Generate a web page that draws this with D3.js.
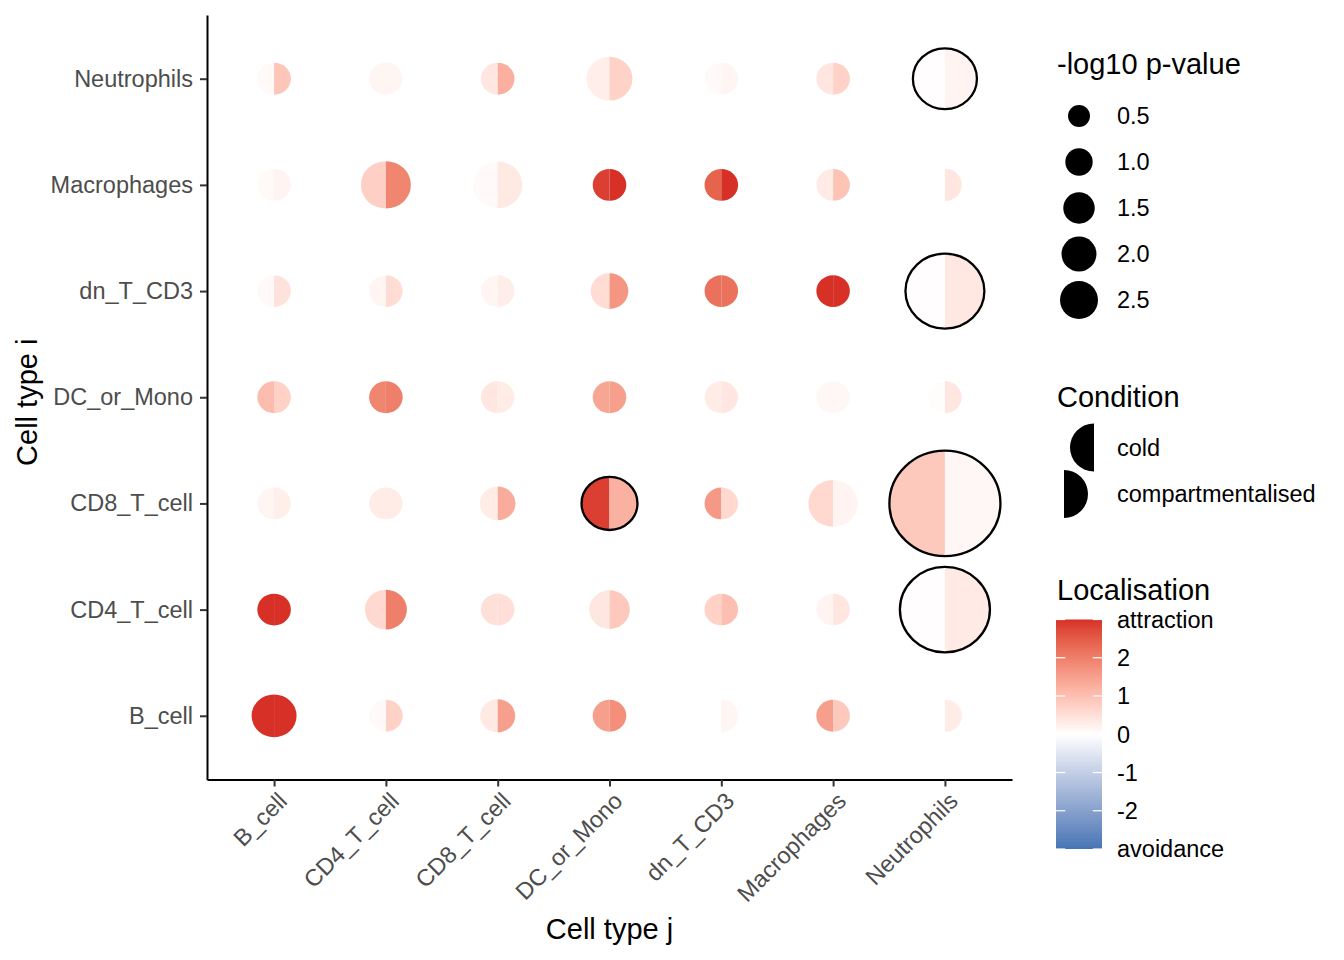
<!DOCTYPE html>
<html>
<head>
<meta charset="utf-8">
<script src="https://cdn.jsdelivr.net/npm/d3@7"></script>
<style>
  body { margin: 0; background: #fff; }
  text { font-family: "Liberation Sans", Arial, Helvetica, sans-serif; }
</style>
</head>
<body>
<div id="chart"></div>
<script>
// cell types, used for both axes
const cellTypes = ["B_cell", "CD4_T_cell", "CD8_T_cell", "DC_or_Mono", "dn_T_CD3", "Macrophages", "Neutrophils"];

// rows = cell type i, columns = cell type j (same order as cellTypes)
const coldScore = [
  [3.0, 0.08, 0.35, 1.5, 0.0, 1.5, 0.0],
  [3.0, 0.6, 0.48, 0.38, 0.72, 0.17, 0.03],
  [0.14, 0.3, 0.3, 2.85, 1.6, 0.62, 0.85],
  [1.05, 1.9, 0.4, 1.4, 0.3, 0.12, 0.04],
  [0.08, 0.15, 0.14, 0.55, 2.2, 3.0, 0.03],
  [0.1, 0.75, 0.08, 2.85, 2.4, 0.32, 0.0],
  [0.1, 0.15, 0.4, 0.27, 0.08, 0.4, 0.03]
];
const compScore = [
  [3.0, 0.7, 1.5, 1.75, 0.16, 0.85, 0.3],
  [3.0, 2.0, 0.5, 0.85, 1.0, 0.4, 0.33],
  [0.25, 0.3, 1.3, 1.22, 0.6, 0.18, 0.12],
  [0.72, 2.0, 0.3, 1.5, 0.4, 0.12, 0.4],
  [0.45, 0.55, 0.28, 1.65, 2.2, 3.0, 0.37],
  [0.17, 1.9, 0.35, 3.0, 3.0, 0.95, 0.4],
  [0.9, 0.15, 1.25, 0.7, 0.15, 0.7, 0.18]
];
const negLogP = [
  [0.73, 0, 0.09, 0, 0.03, 0, 0.03],
  [0, 0.54, 0, 0.45, 0, 0, 3.61],
  [0, 0, 0.13, 1.43, 0, 1.01, 4.95],
  [0, 0, 0, 0, 0, 0, 0],
  [0, 0, 0, 0.26, 0, 0, 2.9],
  [0, 1.05, 1.01, 0, 0, 0, 0.03],
  [0, 0, 0, 0.8, 0, 0, 1.95]
];

const sizeBreaks = [0.5, 1.0, 1.5, 2.0, 2.5];
const conditions = ["cold", "compartmentalised"];
const colorBreaks = [3, 2, 1, 0, -1, -2, -3];
const colorLabels = ["attraction", "2", "1", "0", "-1", "-2", "avoidance"];

const width = 1344, height = 960;
const panel = { left: 207, right: 1012, top: 15, bottom: 779.5 };

const svg = d3.select("#chart").append("svg")
  .attr("width", width)
  .attr("height", height);

// scales
const x = d3.scalePoint().domain(cellTypes).range([panel.left, panel.right]).padding(0.6);
const y = d3.scalePoint().domain(cellTypes).range([panel.bottom, panel.top]).padding(0.6);
const color = d3.scaleLinear().domain([-3, 0, 3])
  .range(["#4575b4", "#ffffff", "#d73027"])
  .interpolate(d3.interpolateLab)
  .clamp(true);
// radius in data units (fraction of a cell)
const rScale = d3.scaleLinear().domain([0, 5]).range([0.15, 0.5]);
const sigLevel = -Math.log10(0.05);

const cells = [];
cellTypes.forEach((ci, i) => {
  cellTypes.forEach((cj, j) => {
    cells.push({ i: ci, j: cj, cold: coldScore[i][j], comp: compScore[i][j], p: negLogP[i][j] });
  });
});

// axes
const xAxis = svg.append("g")
  .attr("transform", `translate(0,${panel.bottom})`)
  .call(d3.axisBottom(x).tickSize(7).tickSizeOuter(0));
const yAxis = svg.append("g")
  .attr("transform", `translate(${panel.left},0)`)
  .call(d3.axisLeft(y).tickSize(7).tickSizeOuter(0).tickPadding(7));

[xAxis, yAxis].forEach(ax => {
  ax.select(".domain").attr("stroke", "#000").attr("stroke-width", 2);
  ax.selectAll(".tick line").attr("stroke", "#333").attr("stroke-width", 2);
  ax.selectAll(".tick text")
    .attr("fill", "#4d4d4d")
    .style("font-size", "23.5px")
    .style("font-family", "'Liberation Sans', Arial, sans-serif");
});

xAxis.selectAll(".tick text")
  .attr("text-anchor", "end")
  .attr("x", null).attr("y", null).attr("dy", "0.72em")
  .attr("transform", "translate(2,11) rotate(-45)");

// half circles
const g = svg.append("g");
const sx = x.step(), sy = y.step();

const halfPath = (cx, cy, rx, ry, side) => side === "right"
  ? `M${cx},${cy - ry} A${rx},${ry} 0 0 1 ${cx},${cy + ry} Z`
  : `M${cx},${cy + ry} A${rx},${ry} 0 0 1 ${cx},${cy - ry} Z`;

const cellG = g.selectAll("g.cell")
  .data(cells)
  .enter()
  .append("g")
  .attr("class", "cell");

cellG.append("path")
  .attr("d", d => halfPath(x(d.j), y(d.i), rScale(d.p) * sx, rScale(d.p) * sy, "left"))
  .attr("fill", d => color(d.cold));

cellG.append("path")
  .attr("d", d => halfPath(x(d.j), y(d.i), rScale(d.p) * sx, rScale(d.p) * sy, "right"))
  .attr("fill", d => color(d.comp));

cellG.filter(d => d.p > sigLevel)
  .append("ellipse")
  .attr("cx", d => x(d.j))
  .attr("cy", d => y(d.i))
  .attr("rx", d => rScale(d.p) * sx)
  .attr("ry", d => rScale(d.p) * sy)
  .attr("fill", "none")
  .attr("stroke", "#000")
  .attr("stroke-width", 2.3);

// axis titles
svg.append("text")
  .attr("x", (panel.left + panel.right) / 2)
  .attr("y", 939)
  .attr("text-anchor", "middle")
  .style("font-size", "29px")
  .text("Cell type j");

svg.append("text")
  .attr("transform", `translate(37,${(panel.top + panel.bottom) / 2 + 5}) rotate(-90)`)
  .attr("text-anchor", "middle")
  .style("font-size", "29px")
  .text("Cell type i");

// legend: -log10 p-value
const legX = 1057, keyX = 1079, labX = 1117;
svg.append("text").attr("x", legX).attr("y", 74)
  .style("font-size", "29px").text("-log10 p-value");

const legSize = d3.scaleSqrt().domain([0, 2.5]).range([4.5, 19]);
const sizeKeys = svg.append("g").selectAll("g")
  .data(sizeBreaks).enter().append("g")
  .attr("transform", (d, k) => `translate(0,${116 + k * 46})`);
sizeKeys.append("circle").attr("cx", keyX).attr("r", d => legSize(d)).attr("fill", "#000");
sizeKeys.append("text").attr("x", labX).attr("dy", "0.36em")
  .style("font-size", "23.5px").text(d => d3.format(".1f")(d));

// legend: Condition
svg.append("text").attr("x", legX).attr("y", 407)
  .style("font-size", "29px").text("Condition");

const condY = [447.5, 494];
svg.append("path")
  .attr("d", halfPath(1094, condY[0], 24, 24, "left"))
  .attr("fill", "#000");
svg.append("path")
  .attr("d", halfPath(1064, condY[1], 24, 24, "right"))
  .attr("fill", "#000");
svg.append("g").selectAll("text")
  .data(conditions).enter().append("text")
  .attr("x", labX).attr("y", (d, k) => condY[k]).attr("dy", "0.36em")
  .style("font-size", "23.5px").text(d => d);

// legend: Localisation colourbar
svg.append("text").attr("x", legX).attr("y", 600)
  .style("font-size", "29px").text("Localisation");

const bar = { x: 1056, w: 46, top: 619.5, bottom: 849 };
const barY = d3.scaleLinear().domain([3, -3]).range([bar.top, bar.bottom]);

const grad = svg.append("defs").append("linearGradient")
  .attr("id", "locGrad")
  .attr("x1", 0).attr("y1", 0).attr("x2", 0).attr("y2", 1);
d3.range(0, 61).forEach(k => {
  const v = 3 - k * 0.1;
  grad.append("stop").attr("offset", (k / 60 * 100) + "%").attr("stop-color", color(v));
});
svg.append("rect")
  .attr("x", bar.x).attr("y", bar.top)
  .attr("width", bar.w).attr("height", bar.bottom - bar.top)
  .attr("fill", "url(#locGrad)");

const tickLen = bar.w / 5;
colorBreaks.forEach(v => {
  svg.append("line").attr("x1", bar.x).attr("x2", bar.x + tickLen)
    .attr("y1", barY(v)).attr("y2", barY(v))
    .attr("stroke", "#fff").attr("stroke-width", 1.2);
  svg.append("line").attr("x1", bar.x + bar.w - tickLen).attr("x2", bar.x + bar.w)
    .attr("y1", barY(v)).attr("y2", barY(v))
    .attr("stroke", "#fff").attr("stroke-width", 1.2);
});

svg.append("g").selectAll("text")
  .data(colorBreaks).enter().append("text")
  .attr("x", labX).attr("y", d => barY(d)).attr("dy", "0.36em")
  .style("font-size", "23.5px")
  .text((d, k) => colorLabels[k]);
</script>
</body>
</html>
